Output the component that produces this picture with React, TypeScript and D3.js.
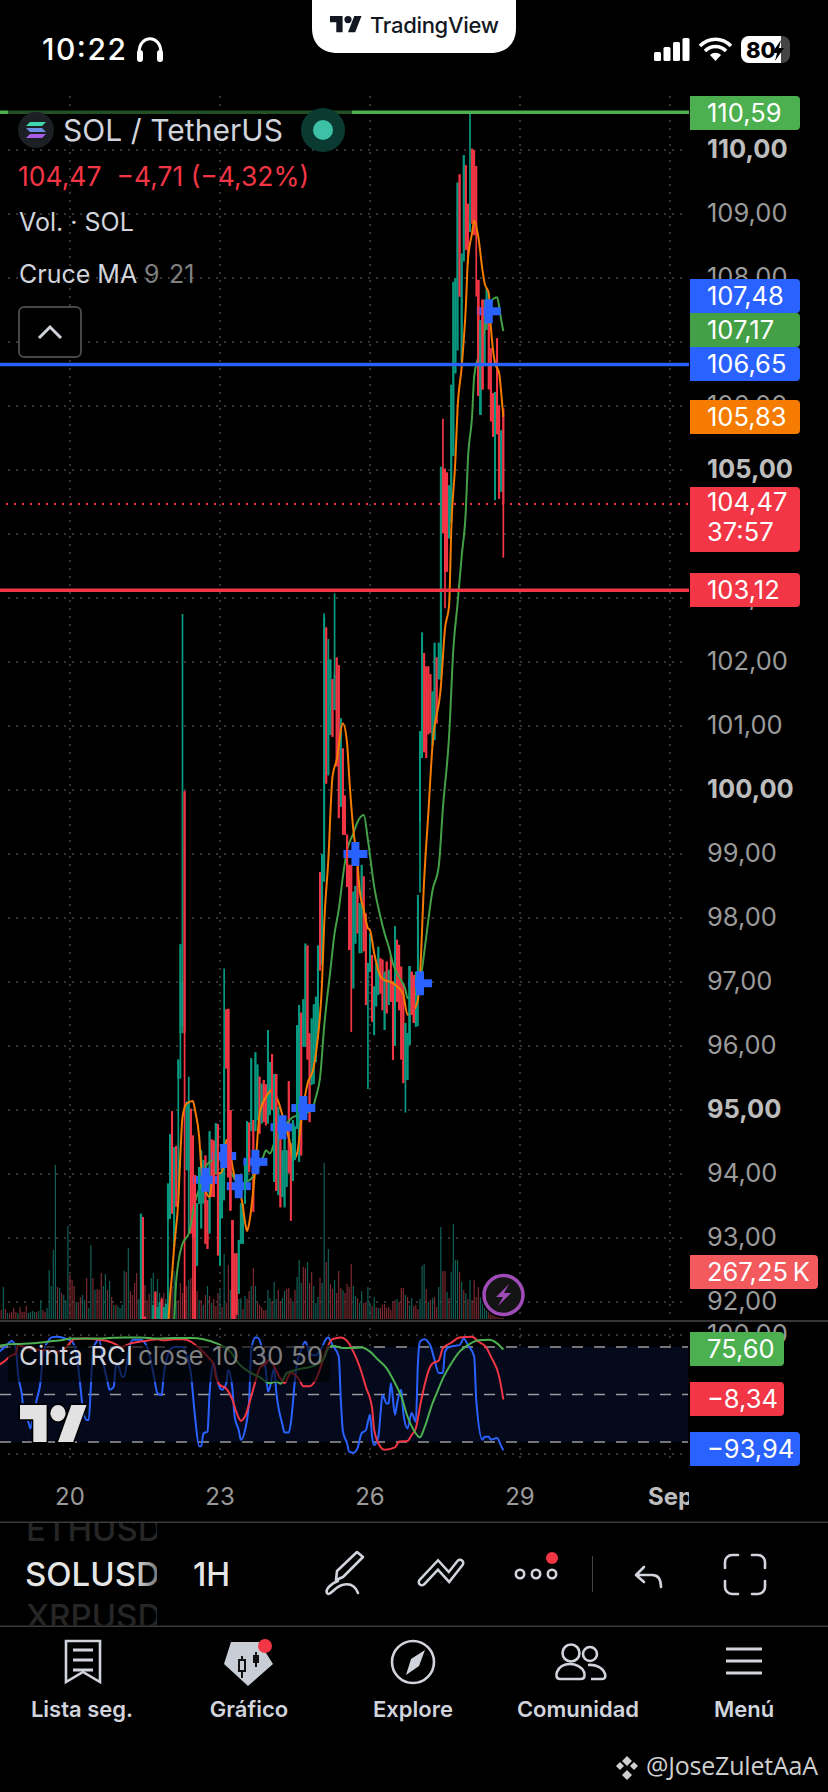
import React, {useEffect, useRef} from 'react';
import * as d3 from 'd3';

// candles, hourly bars counted from the "20" tick. first visible bar is 34
const firstBar = 34;
const opens = [
    91.5, 93.33, 91.77, 91.4, 91.2, 91.3, 91.5, 92.16, 91.5, 91.5, 92.05, 91.5, 91.5, 93.28, 93.3, 94.98,
    92.86, 94.44, 95.49, 96.2, 96.3, 99.98, 94.06, 94.06, 95.02, 94.6, 93.98, 92.57, 93.54, 93.15, 93.54, 94.29,
    93.59, 93.07, 94.54, 94.52, 94.01, 94.78, 92.57, 93.31, 93.59, 96.57, 96.58, 95.0, 93.28, 92.76, 92.76, 92.13,
    92.91, 92.91, 93.54, 93.9, 94.8, 94.67, 94.84, 94.67, 94.84, 95.52, 94.79, 95.47, 95.4, 94.79, 94.92, 95.87,
    93.88, 95.56, 93.67, 94.89, 93.64, 93.48, 93.8, 95.45, 94.48, 93.89, 94.22, 94.71, 94.19, 96.52, 95.99, 95.99,
    97.57, 96.2, 95.39, 95.41, 95.75, 96.2, 98.72, 97.26, 98.57, 102.54, 100.23, 100.86, 101.73, 101.25, 102.07, 101.95,
    99.74, 100.65, 99.91, 99.3, 98.83, 98.83, 96.9, 97.6, 98.8, 97.45, 98.02, 98.65, 98.07, 97.14, 97.16, 97.42,
    96.17, 96.62, 96.8, 97.37, 97.35, 96.25, 97.32, 96.64, 97.4, 97.01, 96.0, 97.66, 97.58, 97.24, 96.98, 95.47,
    95.47, 96.02, 97.16, 97.11, 96.3, 97.0, 99.5, 100.5, 102.14, 101.93, 101.93, 101.81, 100.7, 100.78, 102.07, 101.73,
    101.72, 105.02, 105.02, 104.96, 103.93, 104.17, 105.22, 106.51, 106.87, 109.62, 106.69, 108.26, 109.76, 109.16, 108.72, 110.02,
    110.0, 109.75, 107.97, 105.86, 107.66, 106.64, 107.19, 107.55, 106.9, 106.2, 104.53, 107.06, 106.01, 104.66, 105.96
];
const closes = [
    93.38, 91.5, 91.5, 91.2, 91.4, 91.45, 91.95, 91.5, 91.92, 92.0, 91.5, 91.92, 91.97, 93.85, 94.62, 93.38,
    94.42, 93.49, 95.79, 97.59, 97.0, 96.2, 95.13, 95.13, 93.07, 92.99, 92.97, 93.54, 94.11, 94.37, 94.22, 92.91,
    92.83, 94.67, 93.64, 93.64, 94.79, 92.73, 94.01, 94.46, 95.67, 95.65, 93.95, 93.43, 91.5, 91.5, 91.8, 92.97,
    93.54, 93.53, 94.14, 94.82, 94.03, 95.81, 93.41, 95.9, 95.71, 94.63, 95.41, 94.81, 94.76, 96.25, 95.75, 95.0,
    95.56, 93.74, 95.05, 93.48, 94.37, 94.74, 94.37, 94.02, 93.27, 94.84, 94.74, 96.32, 96.64, 94.29, 96.73, 97.6,
    95.79, 94.81, 96.43, 96.65, 96.77, 97.57, 97.18, 99.0, 102.7, 100.1, 102.04, 102.04, 100.83, 101.8, 100.37, 99.56,
    101.12, 99.3, 99.3, 98.49, 97.5, 97.5, 98.41, 98.5, 97.76, 98.23, 98.83, 97.48, 96.64, 97.29, 97.76, 96.38,
    96.93, 97.29, 97.55, 96.82, 96.56, 97.16, 96.51, 97.19, 96.69, 95.78, 97.87, 96.69, 96.56, 95.79, 95.42, 96.36,
    96.2, 97.25, 96.49, 96.36, 97.16, 98.36, 100.92, 102.46, 100.59, 100.5, 100.87, 100.89, 101.54, 102.3, 101.04, 102.3,
    105.05, 104.01, 103.41, 103.41, 104.76, 106.33, 107.94, 108.0, 109.49, 107.71, 108.38, 109.92, 108.44, 108.23, 108.85, 108.85,
    108.67, 108.67, 106.16, 107.34, 106.26, 107.66, 107.84, 106.26, 105.76, 105.52, 106.22, 105.56, 104.55, 105.62, 104.47
];
// wicks that stick out of the body
const wickHighs: Record<number, number> = {
    52: 95.79, 54: 102.75, 57: 95.52, 74: 97.21, 127: 103.07, 143: 97.3, 179: 105.8, 192: 110.59, 124: 102.36, 122: 102.76
};
const wickLows: Record<number, number> = {
    47: 91.5, 52: 93.64, 53: 95.49, 54: 96.2, 55: 91.5, 57: 93.07, 59: 91.5, 60: 91.5, 135: 96.22, 143: 95.33, 161: 94.96,
    167: 96.31, 168: 98.4, 180: 102.84, 195: 107.71, 208: 103.63, 140: 97.45
};

// volume in thousands, from the very first bar on screen
const volumes = [
    51, 182, 57, 34, 34, 40, 63, 40, 34, 68, 40, 40, 74, 34, 40, 46, 40, 40, 46, 108,
    51, 40, 63, 279, 188, 393, 876, 182, 176, 148, 137, 108, 529, 250, 222, 188, 97, 97, 125, 137,
    108, 233, 63, 421, 233, 165, 171, 165, 262, 188, 256, 165, 216, 125, 80, 80, 74, 63, 80, 273,
    267, 404, 159, 137, 205, 262, 114, 228, 193, 193, 108, 142, 233, 262, 159, 228, 148, 125, 148, 114,
    233, 119, 188, 273, 91, 108, 205, 148, 108, 188, 222, 233, 165, 245, 159, 108, 108, 80, 137, 188,
    131, 91, 114, 74, 148, 165, 68, 370, 91, 307, 165, 199, 114, 91, 114, 119, 57, 131, 114, 159,
    188, 290, 188, 91, 80, 68, 51, 51, 165, 119, 102, 211, 114, 165, 102, 119, 159, 171, 176, 119,
    102, 165, 239, 336, 205, 296, 290, 324, 205, 267, 188, 91, 125, 233, 205, 888, 324, 398, 199, 171,
    222, 148, 273, 176, 165, 148, 199, 182, 313, 188, 131, 119, 91, 159, 91, 97, 182, 91, 74, 125,
    68, 63, 63, 80, 85, 63, 68, 51, 97, 108, 114, 97, 176, 176, 137, 125, 80, 119, 74, 80,
    57, 114, 302, 313, 171, 97, 108, 119, 125, 68, 182, 523, 273, 273, 154, 119, 267, 541, 336, 336,
    267, 211, 165, 148, 114, 222, 108, 222, 125, 182, 125, 137, 91, 108, 57, 46, 46, 34, 28, 28, 23, 267
];
const volumeDirs =
    'rgrgrrrrgrrrrggggrgg' + 'rrgggggrgrgggrrrgrrg' + 'grggrgrrrggrgrgrgggg' + 'rgrrrrggrrrrggrggrrg' +
    'grrggrrrgrgrrgrgrgrg' + 'rgrrrgrgrrgrrrggrgrr' + 'grgrrrrrggrggrrggrrr' + 'grgggrrgrrgggrggrgrr' +
    'grrrgrrrrggrggrrggrg' + 'rgrrrrrrrrgrrrgrggrr' + 'rgggrgrgrrggrrgrgggg' + 'rgrgrgrrrrggggrrrrrrrr';
const firstVolumeBar = -33;

// moving averages, read where the line bends
const fastBars = [47, 48, 49, 50, 52, 53, 54, 56, 59, 60, 62, 63, 65, 67, 68, 70, 72, 74, 75, 76, 78, 83, 84, 85, 86, 89, 91, 94, 97, 100, 103, 106, 107, 109, 111, 114, 117, 119, 121, 122, 124, 126, 128, 131, 133, 134, 136, 138, 139, 141, 143, 144, 146, 149, 151, 154, 158, 160, 162, 165, 167, 168, 170, 172, 174, 178, 180, 182, 183, 185, 186, 188, 190, 191, 193, 194, 196, 198, 199, 201, 202, 204, 206, 207, 208];
const fastValues = [91.6, 92.08, 92.44, 92.86, 93.59, 94.32, 94.89, 95.1, 95.14, 95.0, 94.58, 94.11, 93.75, 93.64, 93.85, 94.01, 94.01, 94.16, 94.53, 94.53, 94.11, 93.49, 93.25, 93.11, 93.23, 94.11, 94.94, 95.2, 95.31, 95.13, 94.79, 94.42, 94.22, 94.32, 94.84, 95.41, 95.67, 96.14, 97.0, 97.9, 98.91, 100.21, 100.47, 101.04, 100.73, 100.21, 99.38, 98.86, 98.44, 98.13, 97.84, 97.81, 97.45, 97.09, 97.03, 97.0, 96.9, 96.8, 96.49, 96.56, 96.72, 97.1, 98.6, 99.64, 100.7, 101.61, 102.52, 102.9, 104.06, 105.16, 105.94, 106.61, 107.55, 108.28, 108.7, 108.9, 108.64, 108.12, 107.92, 107.76, 107.24, 106.67, 106.51, 106.2, 105.83];
const slowBars = [49, 50, 51, 54, 57, 60, 63, 66, 72, 76, 81, 86, 93, 94, 96, 98, 102, 107, 110, 116, 118, 120, 122, 125, 127, 129, 131, 133, 136, 138, 141, 143, 146, 149, 151, 153, 155, 158, 161, 162, 165, 166, 168, 170, 174, 177, 179, 182, 184, 186, 188, 190, 191, 193, 194, 196, 199, 203, 205, 206, 207, 208];
const slowValues = [91.5, 91.72, 92.34, 92.91, 93.07, 93.56, 93.85, 94.16, 94.25, 94.1, 93.85, 93.9, 94.29, 94.37, 94.32, 94.48, 94.7, 94.89, 94.92, 95.0, 95.2, 95.5, 96.3, 97.19, 97.76, 98.13, 98.65, 99.06, 99.32, 99.5, 99.61, 99.22, 98.49, 98.02, 97.76, 97.55, 97.29, 97.08, 96.88, 96.75, 96.77, 96.82, 96.99, 97.45, 98.43, 98.81, 99.72, 100.86, 102.2, 102.9, 103.65, 104.37, 105.16, 105.84, 106.46, 106.77, 107.2, 107.67, 107.7, 107.55, 107.34, 107.17];

// "Cruce MA" crosses
const crossBars = [65, 74, 81, 89, 102, 112, 137, 168, 201];
const crossPrices = [93.91, 94.28, 93.81, 94.19, 94.73, 95.03, 99.0, 96.98, 107.48];

// RCI pane
const rciFastBars = [-34, -31, -28, -26, -25, -23, -22, -20, -19, -18, -16, -14, -13, -10, -9, -6, -2, 1, 3, 5, 6, 8, 9, 10, 11, 13, 14, 16, 18, 19, 21, 22, 23, 25, 26, 28, 30, 34, 37, 40, 42, 44, 45, 46, 48, 50, 54, 56, 58, 60, 62, 63, 64, 66, 67, 69, 70, 72, 73, 75, 76, 78, 79, 81, 82, 84, 86, 87, 89, 90, 92, 94, 95, 96, 98, 99, 102, 103, 105, 106, 108, 109, 111, 113, 115, 117, 118, 121, 123, 124, 126, 129, 130, 131, 133, 134, 136, 138, 140, 142, 143, 144, 145, 146, 148, 149, 150, 152, 153, 154, 156, 157, 159, 160, 162, 164, 166, 167, 168, 170, 173, 175, 177, 179, 180, 182, 185, 187, 189, 191, 194, 195, 198, 199, 201, 202, 205, 207, 208];
const rciFastValues = [72, 80.5, 90, 78, 36, -3, -40, -46, -57, -43, -9, 25, 69, 92, 96, 97, 94, 89, 69, 13, -20, -43, -43, 13, 75, 90, 92, 53, 22, 8, 13, 47, 50, 30, 30, 69, 92, 92, 80, 36, 2, -1, 33, 53, 75, 80, 80, 66, 36, -37, -87, -87, -66, -62, 2, 53, 36, 11, 8, 19, 41, 8, -37, -60, -76, -60, -9, 75, 96, 96, 80, 41, 5, 13, 44, 5, -51, -64, -64, -48, 25, 53, 75, 89, 69, 66, 66, 80, 94, 96, 83, 64, -9, -62, -82, -96, -98, -90, -65, -60, -46, -34, -71, -85, -71, -34, -1, -15, -15, 19, -34, -15, 8, -31, -57, -31, -46, 53, 89, 93, 82, 58, 36, 36, 72, 80, 82, 83, 94, 83, 64, -9, -76, -71, -71, -76, -73, -87, -93.94];
const rciMidBars = [-34, -31, -29, -26, -25, -22, -18, -13, -6, -3, -1, 2, 8, 14, 18, 21, 25, 29, 34, 38, 42, 45, 50, 54, 58, 62, 66, 69, 70, 72, 75, 78, 80, 82, 84, 87, 89, 91, 94, 96, 98, 101, 103, 106, 110, 112, 115, 118, 121, 124, 126, 130, 133, 136, 139, 142, 145, 146, 149, 151, 156, 158, 162, 164, 166, 168, 170, 172, 174, 177, 179, 183, 187, 193, 196, 200, 202, 206, 208];
const rciMidValues = [50, 57, 64, 69, 83, 80, 76, 75, 72, 75, 83, 93, 94, 92, 90, 86, 80, 86, 89, 91, 93, 91, 93, 93, 89, 78, 64, 50, 30, 16, 10, -9, -31, -44, -37, -3, 22, 44, 52, 59, 47, 27, 19, 37, 25, 14, 14, 25, 53, 83, 93, 96, 90, 72, 47, 13, -23, -59, -88, -93, -89, -79, -78, -68, -57, -20, 13, 39, 52, 57, 78, 87, 96, 97, 89, 78, 64, 30, -8.34];
const rciSlowBars = [-34, -30, -24, -18, -10, -3, 0, 8, 14, 19, 26, 34, 42, 50, 58, 64, 71, 77, 81, 86, 91, 96, 99, 101, 104, 107, 112, 117, 122, 124, 126, 131, 136, 140, 144, 148, 152, 156, 159, 162, 165, 168, 170, 174, 176, 179, 183, 187, 191, 196, 201, 205, 208];
const rciSlowValues = [82, 84, 85, 86, 89, 92, 94, 94, 94, 95, 96, 96, 94, 95, 95, 93, 85, 72, 52, 38, 29, 19, 22, 18, 36, 40, 44, 48, 61, 78, 82, 78, 78, 79, 72, 58, 44, 19, -3, -37, -60, -72, -57, -15, 2, 27, 52, 72, 83, 91, 92, 86, 75.6];
const rciLevels = [80, 0, -80];

const priceTicks = [110, 109, 108, 107, 106, 105, 104, 103, 102, 101, 100, 99, 98, 97, 96, 95, 94, 93, 92];
// these two sit fully behind the badges in the app
const hiddenPriceLabels = [107, 104];
const dayTickBars = [0, 72, 144, 216];
const dayTickLabels = ['20', '23', '26', '29'];
const navLabels = ['Lista seg.', 'Gráfico', 'Explore', 'Comunidad', 'Menú'];
const navCenters = [82, 249, 413, 578, 744];

const UP = '#089981';
const DOWN = '#f23645';
const BLUE = '#2962ff';
const GREEN = '#4caf50';
const ORANGE = '#f57c00';
const LIGHT = '#d1d4dc';
const AXIS = '#9a9a9a';
const FONT = 'Inter, Roboto, sans-serif';
const CHART_RIGHT = 689;
const AXIS_SIZE = 25.5;

const x = d3.scaleLinear().domain([0, 288]).range([70, 670]);
const y = d3.scaleLinear().domain([110, 92]).range([150, 1302]);
const volY = d3.scaleLinear().domain([0, 267.25]).range([1319, 1272]);
const rciY = d3.scaleLinear().domain([100, -100]).range([1335, 1454]);

const fmt = (v: number) => v.toFixed(2).replace('.', ',');

// box with the two right corners rounded, the way the axis labels look
const badge = (top: number, h: number, right: number, fill: string) =>
    <path d={`M690 ${top}H${right - 4}q4 0 4 4V${top + h - 4}q0 4 -4 4H690Z`} fill={fill}/>;

const TV_LOGO = 'M14 18H7V7H0V0h14v18zM28 18h-8L27 0h8l-7 18z';

const App: React.FC = () => {
    const marksRef = useRef<SVGGElement>(null);

    useEffect(() => {
        document.body.style.margin = '0';
        document.body.style.background = '#000';

        const g = d3.select(marksRef.current);
        g.selectAll('*').remove();

        // Volume
        const vol = g.append('g').attr('clip-path', 'url(#priceClip)');
        vol.selectAll('rect')
            .data(volumes)
            .enter().append('rect')
            .attr('x', (_, i) => x(i + firstVolumeBar) - 0.6)
            .attr('width', 1.2)
            .attr('y', d => volY(d))
            .attr('height', d => volY(0) - volY(d))
            .attr('fill', (_, i) => volumeDirs[i] === 'g' ? '#0f5f56' : '#7c2a30');

        // Candles
        const candles = g.append('g').attr('clip-path', 'url(#priceClip)');
        const drawCandle = (i: number) => {
            const bar = i + firstBar;
            const open = opens[i];
            const close = closes[i];
            const color = close >= open ? UP : DOWN;
            const hi = wickHighs[bar] ?? Math.max(open, close);
            const lo = wickLows[bar] ?? Math.min(open, close);
            candles.append('line')
                .attr('x1', x(bar)).attr('x2', x(bar))
                .attr('y1', y(hi)).attr('y2', y(lo))
                .attr('stroke', color)
                .attr('stroke-width', 1.7);
            candles.append('rect')
                .attr('x', x(bar) - 1)
                .attr('width', 2)
                .attr('y', y(Math.max(open, close)))
                .attr('height', Math.max(1, Math.abs(y(open) - y(close))))
                .attr('fill', color);
        };
        opens.forEach((_, i) => drawCandle(i));

        // Moving averages
        const priceLine = d3.line<number>().x(d => x(d)).curve(d3.curveMonotoneX);
        const drawMa = (bars: number[], values: number[], color: string) => {
            candles.append('path')
                .attr('d', priceLine.y((_, i) => y(values[i]))(bars))
                .attr('fill', 'none')
                .attr('stroke', color)
                .attr('stroke-width', 2);
        };
        drawMa(slowBars, slowValues, '#43a047');
        drawMa(fastBars, fastValues, ORANGE);

        // Crosses. the candles left of a cross still show through its left arm
        crossBars.forEach((bar, i) => {
            const cx = x(bar);
            const cy = y(crossPrices[i]);
            candles.append('rect').attr('x', cx - 12).attr('y', cy - 4).attr('width', 24).attr('height', 8).attr('fill', BLUE);
            candles.append('rect').attr('x', cx - 4).attr('y', cy - 12).attr('width', 8).attr('height', 24).attr('fill', BLUE);
            [bar - 5, bar - 4, bar - 3].forEach(b => drawCandle(b - firstBar));
        });

        // RCI lines
        const rci = g.append('g').attr('clip-path', 'url(#rciClip)');
        const rciLine = d3.line<number>().x(d => x(d)).curve(d3.curveMonotoneX);
        const drawRci = (bars: number[], values: number[], color: string) => {
            rci.append('path')
                .attr('d', rciLine.y((_, i) => rciY(values[i]))(bars))
                .attr('fill', 'none')
                .attr('stroke', color)
                .attr('stroke-width', 2);
        };
        drawRci(rciFastBars, rciFastValues, BLUE);
        drawRci(rciMidBars, rciMidValues, DOWN);
        drawRci(rciSlowBars, rciSlowValues, GREEN);
    }, []);

    return (
        <svg width={828} height={1792} viewBox="0 0 828 1792" fontFamily={FONT}
             style={{position: 'absolute', left: 0, top: 0, display: 'block', background: '#000'}}>
            <defs>
                <clipPath id="priceClip"><rect x={0} y={90} width={CHART_RIGHT} height={1229}/></clipPath>
                <clipPath id="rciClip"><rect x={0} y={1323} width={CHART_RIGHT} height={150}/></clipPath>
                <clipPath id="sepClip"><rect x={600} y={1470} width={CHART_RIGHT - 600} height={50}/></clipPath>
                <clipPath id="wheelClip"><rect x={0} y={1523} width={157} height={102}/></clipPath>
                <linearGradient id="wheelFade" x1="0" x2="1" y1="0" y2="0">
                    <stop offset="0.8" stopColor="#e6e6e6"/>
                    <stop offset="1" stopColor="#6a6a6a"/>
                </linearGradient>
            </defs>

            {/* grid */}
            <g stroke="#333" strokeWidth={2} strokeDasharray="2 6">
                {priceTicks.map(p => <line key={p} x1={8} x2={682} y1={y(p)} y2={y(p)}/>)}
                {[100, -100].map(v => <line key={v} x1={8} x2={682} y1={rciY(v)} y2={rciY(v)}/>)}
                {[0, 72, 144, 216, 288].map(b => <line key={b} x1={x(b)} x2={x(b)} y1={96} y2={1462}/>)}
            </g>

            {/* RCI band behind the lines */}
            <rect x={0} y={rciY(80)} width={688} height={rciY(-80) - rciY(80)} fill="#040a1c"/>
            <g stroke="#9a9a9a" strokeWidth={1.5} strokeDasharray="11 11">
                {rciLevels.map(v => <line key={v} x1={0} x2={688} y1={rciY(v)} y2={rciY(v)}/>)}
            </g>

            <g ref={marksRef}/>

            {/* price levels */}
            <line x1={0} x2={CHART_RIGHT} y1={y(110.59)} y2={y(110.59)} stroke={GREEN} strokeWidth={3.5}/>
            <line x1={0} x2={CHART_RIGHT} y1={y(106.65)} y2={y(106.65)} stroke={BLUE} strokeWidth={3.5}/>
            <line x1={0} x2={CHART_RIGHT} y1={y(103.12)} y2={y(103.12)} stroke={DOWN} strokeWidth={3.5}/>
            <line x1={6} x2={CHART_RIGHT} y1={y(104.47)} y2={y(104.47)} stroke={DOWN} strokeWidth={2} strokeDasharray="2 6"/>

            {/* pane divider */}
            <rect x={0} y={1320} width={828} height={2} fill="#363636"/>

            {/* legend */}
            <rect x={8} y={110} width={344} height={38} fill="#000" opacity={0.55}/>
            <circle cx={36} cy={130} r={18} fill="#1c1f24"/>
            <path d="M30 122h16l-4 4H26z" fill="#3fd6b0"/>
            <path d="M26 128h16l4 4H30z" fill="#6a8fe0"/>
            <path d="M30 134h16l-4 4H26z" fill="#a65ce6"/>
            <text x={63} y={141} fontSize={30} fill={LIGHT} textLength={220}>SOL / TetherUS</text>
            <circle cx={323} cy={130} r={22} fill="#0b3a33"/>
            <circle cx={323} cy={130} r={10} fill="#3cc0a6"/>
            <text x={18} y={186} fontSize={26.5} fill={DOWN} xmlSpace="preserve">104,47  −4,71 (−4,32%)</text>
            <text x={19} y={231} fontSize={25} fill={LIGHT}>Vol. · SOL</text>
            <text x={19} y={283} fontSize={25} fill={LIGHT}>Cruce MA <tspan x={144} fill="#7f7f7f">9</tspan><tspan x={169} fill="#7f7f7f">21</tspan></text>
            <rect x={19} y={307} width={62} height={50} rx={5} fill="#000" stroke="#474747" strokeWidth={2}/>
            <path d="M39 338l11-11 11 11" fill="none" stroke={LIGHT} strokeWidth={3}/>

            {/* RCI legend */}
            <rect x={8} y={1345} width={322} height={37} fill="#000" opacity={0.6}/>
            <text x={19} y={1365} fontSize={26} fill={LIGHT}>Cinta RCI
                <tspan x={138} fill="#7f7f7f">close</tspan>
                <tspan x={212} fill="#7f7f7f">10</tspan>
                <tspan x={251} fill="#7f7f7f">30</tspan>
                <tspan x={291} fill="#7f7f7f">50</tspan>
            </text>
            <g transform="translate(20 1405) scale(1.9 2.05)">
                <path d={TV_LOGO} fill="#e2e2e2" stroke="#000" strokeWidth={1.6} paintOrder="stroke"/>
                <circle cx={20} cy={4} r={4} fill="#e2e2e2" stroke="#000" strokeWidth={1.6} paintOrder="stroke"/>
            </g>

            {/* alert button */}
            <circle cx={503.5} cy={1295} r={23} fill="#000"/>
            <circle cx={503.5} cy={1295} r={19.5} fill="#141414" stroke="#a04cb8" strokeWidth={3.5}/>
            <path d="M509 1284l-13 13h7l-5 9 13-13h-7z" fill="#a04cb8"/>

            {/* price axis */}
            {priceTicks.filter(p => !hiddenPriceLabels.includes(p)).map(p => (
                <text key={p} x={707} y={y(p) + 8} fontSize={AXIS_SIZE}
                      fontWeight={p % 5 === 0 ? 700 : 400}
                      fill={p % 5 === 0 ? '#bdbdbd' : AXIS}>{fmt(p)}</text>
            ))}
            <text x={707} y={rciY(100) + 8} fontSize={AXIS_SIZE} fill={AXIS}>100,00</text>

            {badge(96, 34, 800, GREEN)}
            {badge(279, 34, 800, BLUE)}
            {badge(313, 34, 800, '#43a047')}
            {badge(347, 34, 800, BLUE)}
            {badge(400, 34, 800, ORANGE)}
            {badge(487, 65, 800, DOWN)}
            {badge(573, 34, 800, DOWN)}
            {badge(1255, 34, 818, '#f25a5e')}
            {badge(1332, 34, 784, GREEN)}
            {badge(1382, 34, 784, DOWN)}
            {badge(1432, 34, 800, BLUE)}
            <g fontSize={AXIS_SIZE} fill="#fff">
                <text x={707} y={122}>110,59</text>
                <text x={707} y={305}>107,48</text>
                <text x={707} y={339}>107,17</text>
                <text x={707} y={373}>106,65</text>
                <text x={707} y={426}>105,83</text>
                <text x={707} y={511}>104,47</text>
                <text x={707} y={541}>37:57</text>
                <text x={707} y={599}>103,12</text>
                <text x={707} y={1281}>267,25{'\u2009'}K</text>
                <text x={707} y={1358}>75,60</text>
                <text x={707} y={1408}>−8,34</text>
                <text x={707} y={1458}>−93,94</text>
            </g>

            {/* time axis */}
            {dayTickBars.map((b, i) => (
                <text key={b} x={x(b)} y={1505} fontSize={24} textAnchor="middle" fill={AXIS}>{dayTickLabels[i]}</text>
            ))}
            <g clipPath="url(#sepClip)">
                <text x={648} y={1505} fontSize={24} fontWeight={700} fill="#bdbdbd">Sep</text>
            </g>
            <rect x={0} y={1521.5} width={828} height={1.5} fill="#3a3a3a"/>
            <rect x={0} y={1625.5} width={828} height={1.5} fill="#3a3a3a"/>

            {/* toolbar */}
            <g clipPath="url(#wheelClip)" fontSize={33} fontWeight={500}>
                <text x={26} y={1541} fill="#262626">ETHUSD</text>
                <text x={25} y={1586} fill="url(#wheelFade)">SOLUSD</text>
                <text x={26} y={1628} fill="#262626">XRPUSD</text>
            </g>
            <text x={193} y={1586} fontSize={32} fontWeight={500} fill="#e6e6e6">1H</text>
            <g fill="none" stroke={LIGHT} strokeWidth={2.6} strokeLinecap="round" strokeLinejoin="round">
                <path d="M336 1580l1-9 20-19 6 5-20 20z"/>
                <path d="M338 1581c-6 2-13 8-11 12s8-6 15-8 13 0 16 8"/>
                <circle cx={520} cy={1574} r={4.2}/>
                <circle cx={536} cy={1574} r={4.2}/>
                <circle cx={552} cy={1574} r={4.2}/>
                <path d="M644 1567l-8 8 8 7M637 1575h15c7 0 9 5 9 12"/>
                <path d="M738 1555h-6a7 7 0 0 0-7 7v6M752 1555h6a7 7 0 0 1 7 7v6M738 1594h-6a7 7 0 0 1-7-7v-6M752 1594h6a7 7 0 0 0 7-7v-6"/>
            </g>
            {/* outlined zigzag, same path twice */}
            <g fill="none" strokeLinejoin="miter" strokeLinecap="round">
                <path d="M422 1582l16-17 11 12 11-14" stroke={LIGHT} strokeWidth={9}/>
                <path d="M422 1582l16-17 11 12 11-14" stroke="#000" strokeWidth={4}/>
            </g>
            <circle cx={552} cy={1558} r={6} fill={DOWN}/>
            <rect x={592} y={1556} width={1} height={36} fill="#444"/>

            {/* bottom nav */}
            {navLabels.map((label, i) => (
                <text key={label} x={navCenters[i]} y={1717} fontSize={22} fontWeight={600} textAnchor="middle" fill={LIGHT}>{label}</text>
            ))}
            <g fill="none" stroke={LIGHT} strokeWidth={2.6}>
                <path d="M66 1641h34v41l-17-10-17 10z"/>
                <path d="M73 1650h20M73 1660h20M73 1670h20" strokeWidth={3}/>
                <circle cx={413} cy={1662} r={21}/>
                <circle cx={571} cy={1653} r={8.5}/>
                <circle cx={590} cy={1654} r={7}/>
                <path d="M566 1679h-6c-4 0-4-4-3-7 2-5 7-8 13-8s12 3 14 8c1 3 1 7-3 7z"/>
                <path d="M588 1665c8-1 15 3 17 9 1 3 0 5-3 5h-11"/>
                <path d="M726 1649h36M726 1661h36M726 1673h36" strokeWidth={3}/>
            </g>
            <path d="M232 1642h28l14 22-25 22-24-22z" transform="translate(-1 0)" fill="#c9cdd6" stroke="none"/>
            <path d="M242 1656v22M256 1652v15" stroke="#111" strokeWidth={2}/>
            <rect x={239} y={1660} width={6} height={11} fill="#c9cdd6" stroke="#111" strokeWidth={2}/>
            <rect x={253} y={1655} width={6} height={8} fill="#111"/>
            <circle cx={265} cy={1646} r={7} fill={DOWN}/>
            <path d="M425 1650l-6 16-13 9 5-16z" fill={LIGHT}/>

            {/* status bar */}
            <path d="M312 0H516V28C516 43 507 53 490 53H338C321 53 312 43 312 28Z" fill="#fff"/>
            <g transform="translate(330 16) scale(0.9)"><path d={TV_LOGO} fill="#131722"/><circle cx={20} cy={4} r={4} fill="#131722"/></g>
            <text x={370} y={33} fontSize={22} fontWeight={500} fill="#131722" textLength={129}>TradingView</text>
            <text x={42} y={60} fontSize={30} fontWeight={500} fill="#fff" textLength={84}>10:22</text>
            <path d="M139 60v-7c0-19 22-19 22 0v7" fill="none" stroke="#fff" strokeWidth={3}/>
            <rect x={137} y={50} width={6} height={12} rx={3} fill="#fff"/>
            <rect x={157} y={50} width={6} height={12} rx={3} fill="#fff"/>
            <g fill="#fff">
                <rect x={654} y={52} width={7} height={9} rx={1.5}/>
                <rect x={663.5} y={47} width={7} height={14} rx={1.5}/>
                <rect x={673} y={42} width={7} height={19} rx={1.5}/>
                <rect x={682.5} y={38} width={7} height={23} rx={1.5}/>
            </g>
            <g fill="none" stroke="#fff" strokeWidth={3.6}>
                <path d="M700 46c9-9 22-9 31 0"/>
                <path d="M705 51c6-6 15-6 21 0"/>
            </g>
            <path d="M710 55c3-3 8-3 11 0l-5.5 6z" fill="#fff"/>
            <rect x={741} y={36} width={49} height={27} rx={8} fill="#444"/>
            <path d="M749 36h32v27h-32a8 8 0 0 1-8-8v-11a8 8 0 0 1 8-8z" fill="#fff"/>
            <text x={746} y={58} fontSize={22} fontWeight={800} fill="#000">80</text>
            <path d="M781 40l-9 13h5l-2 8 9-13h-5z" fill="#000"/>

            {/* watermark */}
            <g fill="#cfcfcf">
                <path d="M627 1756l5 5-5 5-5-5zM616 1766l4-4 4 4-4 4zM638 1766l-4-4-4 4 4 4zM627 1770l5 5-5 5-5-5z"/>
            </g>
            <text x={646} y={1775} fontSize={25} fontFamily="'Open Sans', sans-serif" fill="#cfcfcf" textLength={172}>@JoseZuletAaA</text>
        </svg>
    );
};

export default App;
